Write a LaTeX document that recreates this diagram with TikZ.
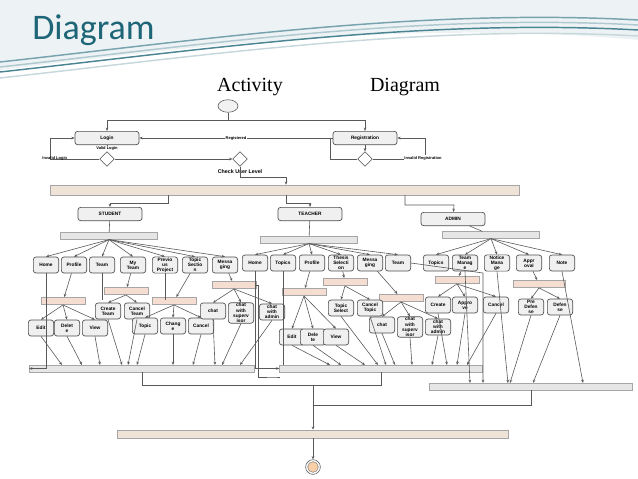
\documentclass[tikz,border=0pt]{standalone}
\usepackage{fontspec}
\setmainfont{Liberation Serif}
\newfontfamily\tinysans{Liberation Sans}
\newfontfamily\titlefont{Carlito}
\usetikzlibrary{arrows.meta,shapes.geometric,shapes.misc}
\definecolor{teal1}{HTML}{1E6578}
\definecolor{tanbar}{HTML}{EFE2D6}
\definecolor{pinkbar}{HTML}{F6DDD2}
\definecolor{graybar}{HTML}{E6E6E6}
\begin{document}
\begin{tikzpicture}[x=0.75pt,y=-0.75pt,
  act/.style={draw=black!70,rounded corners=2pt,fill=gray!12,line width=0.5pt,
    font=\tinysans\bfseries\fontsize{3.6}{3.9}\selectfont,align=center,
    minimum width=19pt,minimum height=12pt,inner sep=0.5pt},
  big/.style={act,minimum width=48pt,minimum height=10pt},
  lab/.style={font=\tinysans\bfseries\fontsize{3}{3.4}\selectfont,inner sep=0.5pt},
  bar/.style={draw=black!35,fill=graybar,minimum height=5pt,inner sep=0},
  pbar/.style={draw=black!35,fill=pinkbar,minimum height=5.5pt,minimum width=33pt,inner sep=0},
  dia/.style={diamond,draw=black!70,fill=white,minimum size=11pt,inner sep=0},
  ln/.style={draw=black!65,line width=0.45pt},
  arr/.style={ln,-{Stealth[length=2.5pt,width=2pt]}}]
\useasboundingbox (0,0) rectangle (638,478);
% header swooshes
\fill[teal1!8] (0,0) -- (638,0) -- (638,40) .. controls (420,20) and (200,45) .. (0,70) -- cycle;
\foreach \o/\c in {0/teal1!60,5/teal1!35,10/teal1!80,16/teal1!25}
  \draw[\c,line width=1.1pt] (0,{62+\o}) .. controls (200,{40+\o}) and (420,{8+\o}) .. (638,{20+\o});
\node[anchor=west,text=teal1,font=\titlefont\fontsize{27}{30}\selectfont,inner sep=0] (title) at (32,30) {Diagram};
\node[font=\fontsize{15}{17}\selectfont] (t1) at (250,87) {Activity};
\node[font=\fontsize{15}{17}\selectfont] (t2) at (405,87) {Diagram};
% top part
\node[ellipse,draw=black!70,fill=gray!10,minimum width=15pt,minimum height=8pt] (start) at (228,106) {};
\node[big] (login) at (107,138) {Login};
\node[big] (reg) at (365,138) {Registration};
\node[dia] (d1) at (107,159) {};
\node[dia] (d2) at (240,159) {};
\node[dia] (d3) at (365,159) {};
\draw[ln] (start) -- (228,120);
\draw[arr] (228,120) -| (login);
\draw[arr] (228,120) -| (reg);
\draw[arr] (reg.west) -- node[lab,fill=white]{Registered} (login.east);
\draw[ln] (login) -- node[lab,fill=white]{Valid Login} (d1);
\draw[arr] (d1) -- (d2);
\draw[arr] (d1.west) -- (50,159) |- (login.west);
\node[lab,anchor=east] (il) at (68,158) {Invalid Login};
\draw[arr] (reg) -- (d3);
\draw[arr] (d3.east) -- (425,159) |- (reg.east);
\node[lab,fill=white] (ir) at (423,158) {Invalid Registration};
\draw[ln] (d3.west) -| (330,138);
\node[lab,font=\tinysans\bfseries\fontsize{4}{4.5}\selectfont] (cul) at (240,172) {Check User Level};
\node[draw=black!35,fill=tanbar,minimum width=352pt,minimum height=7.5pt,inner sep=0] (mainbar) at (285,190) {};
\draw[arr] (d2) -- (240,177) -| (mainbar.north -| 286,0);
\node[big] (stu) at (110,214) {STUDENT};
\node[big] (tea) at (310,214) {TEACHER};
\node[big] (adm) at (453,219) {ADMIN};
\draw[arr] (168,195) |- (110,203) -- (stu);
\draw[arr] (286,195) |- (310,203) -- (tea);
\draw[arr] (405,195) |- (454,205) -- (adm);
\node[bar,minimum width=73pt] (sb) at (109,236) {};
\node[bar,minimum width=73pt] (tb) at (309,240) {};
\node[bar,minimum width=73pt] (ab) at (491,235) {};
\draw[ln] (stu) -- (sb); \draw[ln] (tea) -- (tb); \draw[ln] (adm) -- (ab);
% level 1
\foreach \n/\x/\t in {sHome/46/Home,sProf/74/Profile,sTeam/102/Team,sMy/133/My\\Team,sPrev/165/Previo\\us\\Project,sTop/195/Topic\\Sectio\\n,sMsg/225/Messa\\ging}
  {\node[act] (\n) at (\x,265) {\t}; \draw[arr] (sb.south) -- (\n.north);}
\foreach \n/\x/\t in {tHome/255/Home,tTop/283/Topics,tProf/312/Profile,tThe/341/Thesis\\Selecti\\on,tMsg/370/Messa\\ging,tTeam/398/Team}
  {\node[act] (\n) at (\x,263) {\t}; \draw[arr] (tb.south) -- (\n.north);}
\foreach \n/\x/\t in {aTop/436/Topics,aTM/465/Team\\Manag\\e,aNM/497/Notice\\Mana\\ge,aApp/529/Appr\\oval,aNote/562/Note}
  {\node[act] (\n) at (\x,263) {\t}; \draw[arr] (ab.south) -- (\n.north);}
% pink bars
\node[pbar] (p1) at (63,301) {};
\node[pbar] (p2) at (126,291) {};
\node[pbar] (p3) at (174,301) {};
\node[pbar] (p4) at (234,285) {};
\node[pbar] (p5) at (304,292) {};
\node[pbar] (p6) at (345,282) {};
\node[pbar] (p7) at (401,298) {};
\node[pbar] (p8) at (457,280) {};
\node[pbar,minimum width=39pt] (p9) at (539,284) {};
\draw[arr] (sProf) -- (p1); \draw[arr] (sMy) -- (p2); \draw[arr] (sTop) -- (p3);
\draw[ln] (sPrev) -- (p3.north -| sPrev);
\draw[arr] (sMsg) -- (p4); \draw[arr] (tProf) -- (p5); \draw[arr] (tThe) -- (p6);
\draw[arr] (tMsg) -- (p7); \draw[arr] (aTM) -- (p8); \draw[arr] (aApp) -- (p9);
% level 2
\foreach \n/\x/\y/\t/\p in {sEd/41/328/Edit/p1,sDe/67/328/Delet\\e/p1,sVi/95/328/View/p1,
  sCT/108/311/Create\\Team/p2,sCa/137/311/Cancel\\Team/p2,
  sTo/145/326/Topic/p3,sCh/173/326/Chang\\e/p3,sCn/201/326/Cancel/p3,
  sc1/213/311/chat/p4,sc2/241/313/chat\\with\\superv\\isor/p4,sc3/272/312/chat\\with\\admin/p4,
  tEd/292/337/Edit/p5,tDe/313/337/Dele\\te/p5,tVi/336/337/View/p5,
  tTS/341/308/Topic\\Select/p6,tCT/370/308/Cancel\\Topic/p6,
  tc1/382/325/chat/p7,tc2/410/327/chat\\with\\superv\\isor/p7,tc3/438/327/chat\\with\\admin/p7,
  aCr/438/305/Create/p8,aAp/465/305/Appro\\ve/p8,aCa/496/305/Cancel/p8,
  aPD/531/307/Pre\\Defen\\se/p9,aDe/560/307/Defen\\se/p9}
  {\node[act] (\n) at (\x,\y) {\t}; \draw[arr] (\p.south) -- (\n.north);}
% bottom bars
\node[bar,minimum width=169pt] (sbb) at (142,368.5) {};
\node[bar,minimum width=152pt] (tbb) at (381,368.5) {};
\node[bar,minimum width=152pt] (abb) at (531,386.5) {};
\foreach \n/\x in {sEd/62,sDe/82,sVi/100,sCT/122,sCa/128,sTo/137,sCh/173,sCn/193,sc1/215,sc2/222,sc3/240}
  {\draw[arr] (\n.south) -- (\x,365);}
\draw[arr] (sHome.south) -- (sHome.south |- sbb.west) -- (sbb.west);
\draw[ln] (sTeam.south) -- (102,300);
\draw[ln] (sPrev.south) -- (165,300);
\draw[ln] (p4.east) -- (258,285) |- (275,377) -- (280,377);
\foreach \n/\x in {tEd/330,tDe/341,tVi/365,tTS/378,tCT/386,tc1/395,tc2/412,tc3/432,aCr/447,aAp/457,aCa/467}
  {\draw[arr] (\n.south) -- (\x,365);}
\draw[arr] (tHome.south) |- (tbb.west);
\draw[ln] (tTop.south) -- (283,365);
\draw[arr] (tTeam.east) -- (483,273) -- (483,383);
\draw[arr] (aTM.south) -- (470,383);
\foreach \n/\x in {aNM/508,aPD/510,aDe/533,aNote/583}
  {\draw[arr] (\n.south) -- (\x,383);}
% merge
\node[draw=black!35,fill=tanbar,minimum width=293pt,minimum height=6pt,inner sep=0] (fb) at (313,434) {};
\node[circle,draw=black!70,fill=white,minimum size=11pt,inner sep=0] (endo) at (313,467) {};
\node[circle,fill=tanbar!60!orange!70,draw=black!50,minimum size=8pt,inner sep=0] (endi) at (313,467) {};
\draw[ln] (sbb.south) |- (313,385) coordinate (m);
\draw[ln] (tbb.south) |- (m);
\draw[ln] (abb.south) |- (313,405);
\draw[arr] (m) -- (fb);
\draw[arr] (fb) -- (endo);
\end{tikzpicture}
\end{document}
